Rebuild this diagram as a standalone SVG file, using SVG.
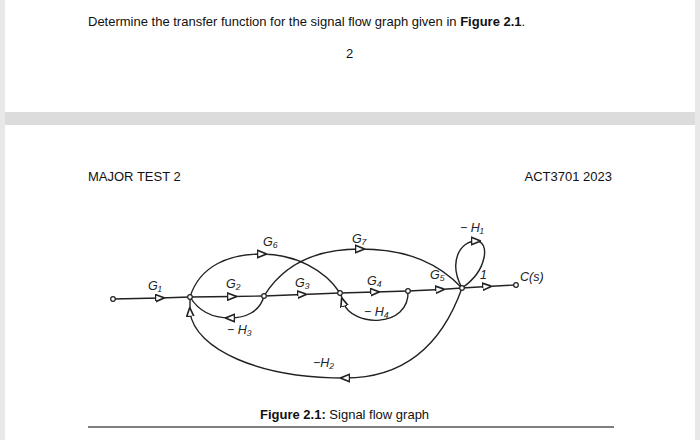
<svg xmlns="http://www.w3.org/2000/svg" width="700" height="440" viewBox="0 0 700 440">
<defs>
<marker id="a" viewBox="0 0 10 10" refX="5" refY="5" markerWidth="6.5" markerHeight="6.5" orient="auto"><path d="M0,1 L10,5 L0,9 Z" fill="#fff" stroke="#222" stroke-width="1.8"/></marker>
<style>
.t{font-family:"Liberation Sans",Arial,sans-serif;font-size:13px;fill:#111}
.h{font-family:"Liberation Sans",Arial,sans-serif;font-size:12.5px;fill:#222;font-style:italic}
.e{fill:none;stroke:#222;stroke-width:1.4;marker-mid:url(#a)}
.n{fill:#fff;stroke:#222;stroke-width:1.2}
</style>
</defs>
<rect width="700" height="440" fill="#fff"/>
<rect x="0" y="112" width="700" height="13" fill="#dcdcdc"/>
<rect x="0" y="0" width="5" height="440" fill="#e8e8e8"/>
<rect x="695" y="0" width="5" height="440" fill="#e8e8e8"/>
<text class="t" x="88" y="26">Determine the transfer function for the signal flow graph given in <tspan font-weight="bold">Figure 2.1</tspan>.</text>
<text class="t" x="346" y="58" font-size="11">2</text>
<text class="t" x="88" y="181" font-size="12">MAJOR TEST 2</text>
<text class="t" x="612" y="181" font-size="12" text-anchor="end">ACT3701 2023</text>
<g id="connectors">
<path class="e" d="M113,299 L160,298 L190,297"/>
<path class="e" d="M190,297 L232,296.5 L264,296"/>
<path class="e" d="M264,296 L302,294.5 L340,293"/>
<path class="e" d="M340,293 L375,292 L408,291"/>
<path class="e" d="M408,291 L440,289.5 L462,288"/>
<path class="e" d="M462,288 L487,286.5 L516,285"/>
<path class="e" d="M190,297 C200,265 230,254 262,254 C295,254 325,270 340,293"/>
<path class="e" d="M264,296 C285,262 320,249 360,249 C410,249 440,265 462,288"/>
<path class="e" d="M264,296 C260,312 245,318 230,318 C212,318 198,310 190,297"/>
<path class="e" d="M408,291 C410,328 352,328 343,302 L341,295"/>
<path class="e" d="M462,288 C440,350 400,378 345,378 C260,378 195,350 190,312 L190,300"/>
<path class="e" d="M462,288 C448,262 460,241 476,241 C490,241 488,270 462,288"/>
</g>
<g id="n0"><circle class="n" cx="113" cy="299" r="2.3"/></g>
<g id="n1"><circle class="n" cx="190" cy="297" r="2.3"/></g>
<g id="n2"><circle class="n" cx="264" cy="296" r="2.3"/></g>
<g id="n3"><circle class="n" cx="340" cy="293" r="2.3"/></g>
<g id="n4"><circle class="n" cx="408" cy="291" r="2.3"/></g>
<g id="n5"><circle class="n" cx="462" cy="288" r="2.3"/></g>
<g id="n6"><circle class="n" cx="516" cy="285" r="2.3"/></g>
<g id="labels">
<text class="h" x="148" y="290">G₁</text>
<text class="h" x="226" y="288">G₂</text>
<text class="h" x="295" y="287">G₃</text>
<text class="h" x="367" y="285">G₄</text>
<text class="h" x="430" y="279">G₅</text>
<text class="h" x="263" y="246">G₆</text>
<text class="h" x="352" y="243">G₇</text>
<text class="h" x="480" y="279">1</text>
<text class="h" x="520" y="281" font-size="13">C(s)</text>
<text class="h" x="227" y="334">− H₃</text>
<text class="h" x="364" y="316">− H₄</text>
<text class="h" x="313" y="367">−H₂</text>
<text class="h" x="460" y="232">− H₁</text>
</g>
<text class="t" x="260" y="419" font-size="12"><tspan font-weight="bold">Figure 2.1:</tspan> Signal flow graph</text>
<line x1="88" y1="427" x2="614" y2="427" stroke="#555" stroke-width="1.5"/>
</svg>
